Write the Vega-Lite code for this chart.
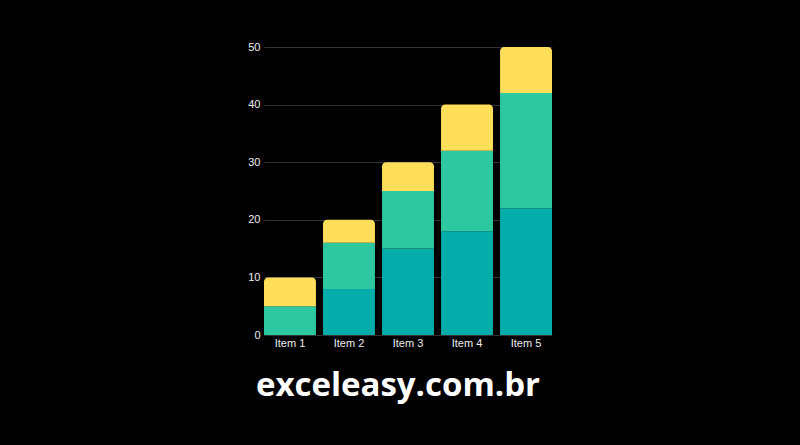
{
  "$schema": "https://vega.github.io/schema/vega-lite/v6.json",
  "background": "#000000",
  "autosize": {"type": "none"},
  "padding": {"left": 264, "top": 47, "right": 248, "bottom": 110},
  "width": 288,
  "height": 288,
  "view": {"stroke": null},
  "title": {
    "text": "exceleasy.com.br",
    "orient": "bottom",
    "anchor": "middle",
    "frame": "group",
    "font": "Open Sans",
    "fontSize": 33,
    "fontWeight": "bold",
    "color": "#ffffff",
    "baseline": "alphabetic",
    "offset": 48,
    "dx": -10
  },
  "data": {
    "values": [
      {"item": "Item 1", "serie": "Série 1", "valor": 0},
      {"item": "Item 1", "serie": "Série 2", "valor": 5},
      {"item": "Item 1", "serie": "Série 3", "valor": 5},
      {"item": "Item 2", "serie": "Série 1", "valor": 8},
      {"item": "Item 2", "serie": "Série 2", "valor": 8},
      {"item": "Item 2", "serie": "Série 3", "valor": 4},
      {"item": "Item 3", "serie": "Série 1", "valor": 15},
      {"item": "Item 3", "serie": "Série 2", "valor": 10},
      {"item": "Item 3", "serie": "Série 3", "valor": 5},
      {"item": "Item 4", "serie": "Série 1", "valor": 18},
      {"item": "Item 4", "serie": "Série 2", "valor": 14},
      {"item": "Item 4", "serie": "Série 3", "valor": 8},
      {"item": "Item 5", "serie": "Série 1", "valor": 22},
      {"item": "Item 5", "serie": "Série 2", "valor": 20},
      {"item": "Item 5", "serie": "Série 3", "valor": 8}
    ]
  },
  "transform": [
    {"stack": "valor", "groupby": ["item"], "sort": [{"field": "serie", "order": "ascending"}], "as": ["v0", "v1"]}
  ],
  "encoding": {
    "x": {
      "field": "item", "type": "nominal",
      "scale": {"paddingInner": 0.12, "paddingOuter": 0},
      "axis": {
        "title": null, "labelAngle": 0, "domain": false, "ticks": false,
        "labelColor": "#eeeeee", "labelFont": "Liberation Sans", "labelFontSize": 11,
        "labelPadding": 2
      }
    },
    "y": {
      "field": "v1", "type": "quantitative",
      "scale": {"domain": [0, 50]},
      "axis": {
        "title": null, "values": [0, 10, 20, 30, 40, 50], "domain": false, "ticks": false,
        "grid": true, "gridColor": "#333333", "gridWidth": 1,
        "labelColor": "#eeeeee", "labelFont": "Liberation Sans", "labelFontSize": 11,
        "labelPadding": 4
      }
    },
    "y2": {"field": "v0"},
    "color": {
      "field": "serie", "type": "nominal",
      "scale": {"domain": ["Série 1", "Série 2", "Série 3"], "range": ["#04ada9", "#2ec8a0", "#ffde59"]},
      "legend": null
    }
  },
  "layer": [
    {
      "transform": [{"filter": "datum.serie != 'Série 3'"}],
      "mark": {"type": "bar"}
    },
    {
      "transform": [{"filter": "datum.serie == 'Série 3'"}],
      "mark": {"type": "bar", "cornerRadiusTopLeft": 4, "cornerRadiusTopRight": 4}
    }
  ]
}
